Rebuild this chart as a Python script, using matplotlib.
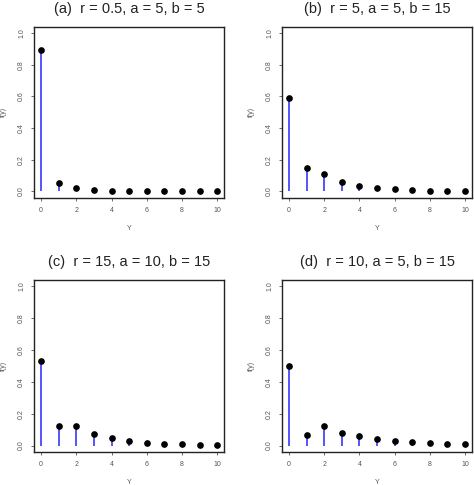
import numpy as np
import matplotlib.pyplot as plt

plt.rcParams['font.family'] = ['Liberation Sans', 'DejaVu Sans']

y_vals = np.arange(0, 11)

titles = [
    '(a)  r = 0.5, a = 5, b = 5',
    '(b)  r = 5, a = 5, b = 15',
    '(c)  r = 15, a = 10, b = 15',
    '(d)  r = 10, a = 5, b = 15',
]
ylabels = ['f(y)', 'f(y)', 'f(y)', 'f(y)']

prob_a = [0.895, 0.055, 0.025, 0.010, 0.005, 0.003, 0.002, 0.002, 0.001, 0.001, 0.001]
prob_b = [0.593, 0.151, 0.111, 0.061, 0.034, 0.021, 0.013, 0.008, 0.005, 0.003, 0.002]
prob_c = [0.528, 0.122, 0.126, 0.075, 0.050, 0.031, 0.019, 0.013, 0.008, 0.005, 0.003]
prob_d = [0.497, 0.067, 0.124, 0.082, 0.061, 0.042, 0.030, 0.021, 0.015, 0.010, 0.008]
probs = [prob_a, prob_b, prob_c, prob_d]

# axes boxes in figure fractions: left, bottom, width, height
boxes = [
    [0.072, 0.593, 0.401, 0.352],
    [0.595, 0.593, 0.401, 0.352],
    [0.072, 0.070, 0.401, 0.354],
    [0.595, 0.070, 0.401, 0.354],
]

fig = plt.figure(figsize=(4.74, 4.86), dpi=100)

for box, title, ylab, p in zip(boxes, titles, ylabels, probs):
    ax = fig.add_axes(box)
    ax.vlines(y_vals, 0, p, color='#4646ff', linewidth=1.3)
    ax.plot(y_vals, p, 'o', color='k', markersize=3.8)
    ax.set_xlim(-0.4, 10.4)
    ax.set_ylim(-0.04, 1.04)
    ax.set_xticks(np.arange(0, 11, 2))
    ax.set_yticks(np.arange(0, 1.01, 0.2))
    ax.set_yticklabels([f'{v:.1f}' for v in np.arange(0, 1.01, 0.2)],
                       rotation=90, va='center')
    ax.tick_params(labelsize=5, colors='#555555', length=2.5, width=0.6,
                   direction='out', pad=4)
    for s in ax.spines.values():
        s.set_linewidth(1.0)
        s.set_color('#222222')
    ax.set_xlabel('Y', fontsize=5, color='#555555', labelpad=8)
    ax.set_ylabel(ylab, fontsize=5, color='#555555', labelpad=8)
    ax.set_title(title, fontsize=10.5, color='#222222', pad=10)

fig.savefig('out.png', dpi=100)
